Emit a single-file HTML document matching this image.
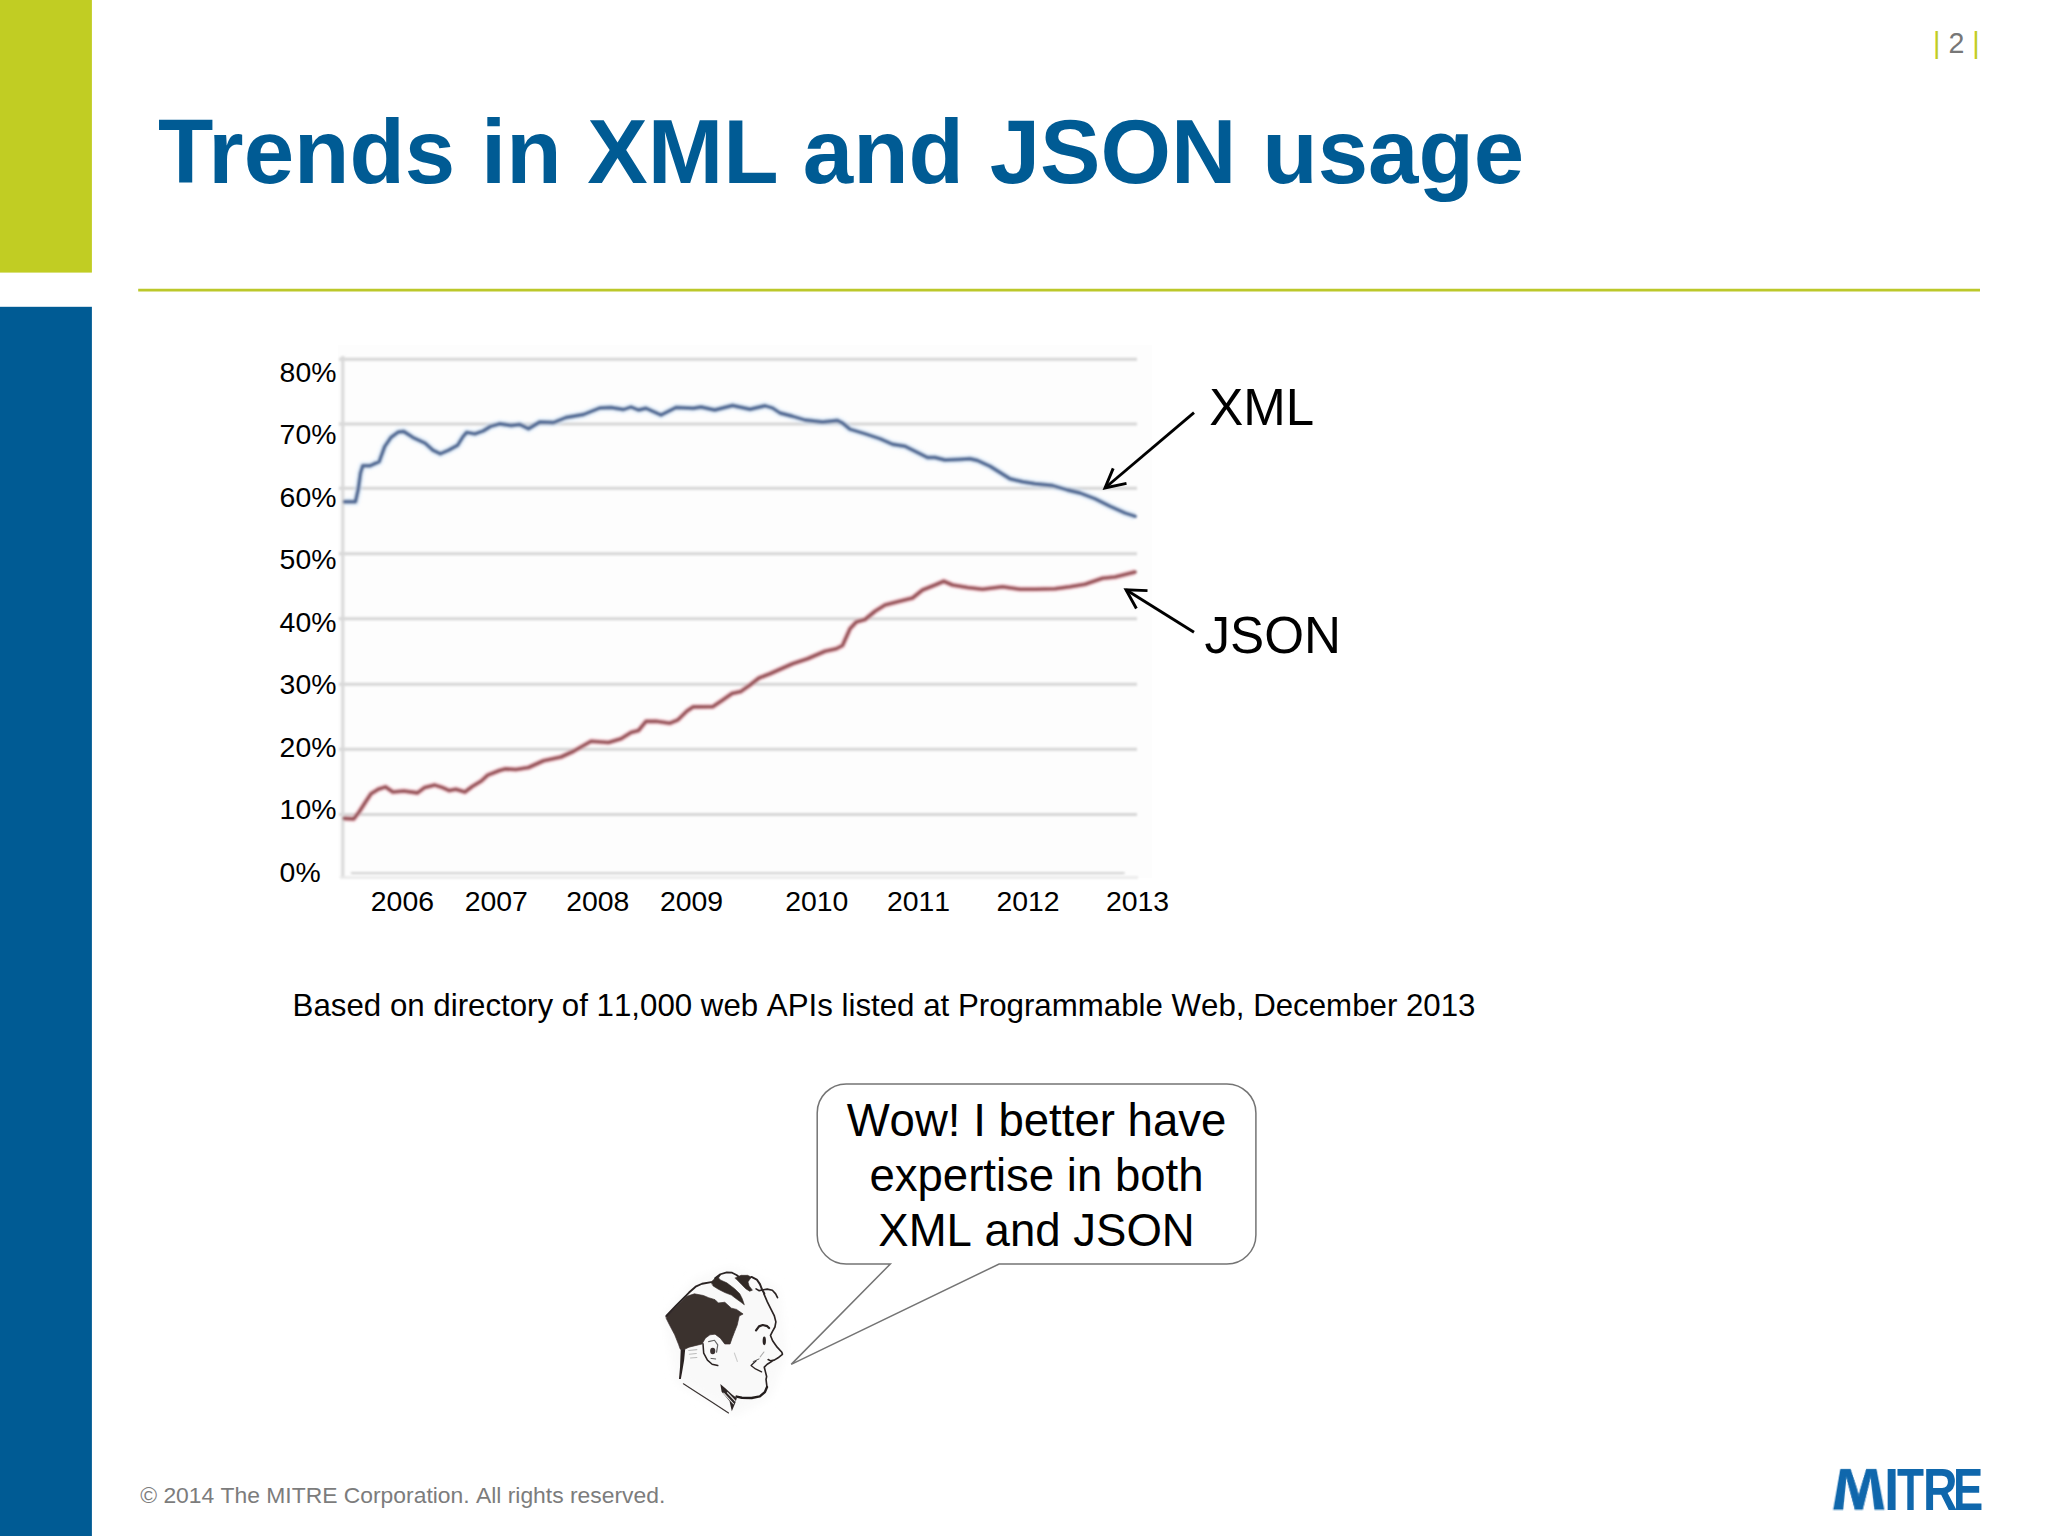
<!DOCTYPE html>
<html lang="en">
<head>
<meta charset="utf-8">
<title>Trends in XML and JSON usage</title>
<style>
html,body{margin:0;padding:0;background:#fff;}
body{width:2048px;height:1536px;position:relative;overflow:hidden;font-family:"Liberation Sans",sans-serif;color:#000;font-kerning:none;}
.abs{position:absolute;white-space:nowrap;line-height:1;}
#title{left:158px;top:106.5px;font-kerning:normal;word-spacing:0.55px;font-size:90.67px;font-weight:bold;color:#005b94;}
#pgnum{left:1933px;top:28.6px;font-size:28.6px;color:#777;}
#pgnum span{color:#c1cd23;}
.yl{font-size:28.4px;left:279.6px;}
.xl{font-size:28.4px;top:886.9px;}
#cap{left:292.6px;top:990.1px;font-size:31.26px;}
#xml{left:1209.2px;top:381.5px;font-size:51px;}
#json{left:1204.4px;top:609.9px;font-size:51.2px;}
#bubtxt{position:absolute;left:816.5px;top:1094.1px;width:440px;text-align:center;font-size:45.55px;line-height:54.7px;}
#foot{left:140.2px;top:1483.9px;font-size:22.87px;color:#7c7c7c;}
#logo{position:absolute;left:1800px;top:1460px;width:248px;height:60.0px;font-size:60.0px;font-weight:bold;line-height:1;color:#0f67ac;white-space:nowrap;filter:blur(0.5px);}
#logo span{position:absolute;top:0;display:block;transform-origin:0 0;}
svg{position:absolute;left:0;top:0;overflow:visible;}
</style>
</head>
<body>
<div id="title" class="abs">Trends in XML and JSON usage</div>
<div id="pgnum" class="abs"><span>|</span> 2 <span>|</span></div>

<!-- chart -->
<svg id="chart" width="2048" height="1536" viewBox="0 0 2048 1536">
  <defs>
    <filter id="soft" x="-5%" y="-5%" width="110%" height="110%"><feGaussianBlur stdDeviation="0.9"/></filter>
  </defs>
  <rect x="0" y="0" width="91.9" height="272.6" fill="#c1cd23"/>
  <rect x="0" y="306.8" width="91.9" height="1230" fill="#005b94"/>
  <rect x="138.2" y="288.75" width="1841.8" height="2.75" fill="#bcc82a"/>
  <rect x="338" y="345" width="814" height="533" fill="#fdfdfd"/>
  <g filter="url(#soft)">
    <g stroke="#d5d5d5" stroke-width="3.1" fill="none">
      <line x1="339" y1="359.3" x2="1137" y2="359.3"/>
      <line x1="339" y1="424" x2="1137" y2="424"/>
      <line x1="339" y1="488.2" x2="1137" y2="488.2"/>
      <line x1="339" y1="553.7" x2="1137" y2="553.7"/>
      <line x1="339" y1="618.7" x2="1137" y2="618.7"/>
      <line x1="339" y1="684.3" x2="1137" y2="684.3"/>
      <line x1="339" y1="749.3" x2="1137" y2="749.3"/>
      <line x1="339" y1="814.5" x2="1137" y2="814.5"/>
      <line x1="342.8" y1="356" x2="342.8" y2="878" stroke="#d9d9d9"/>
    </g>
    <line x1="351" y1="873.1" x2="1124.6" y2="873.1" stroke="#c9c9c9" stroke-width="1.8"/>
    <line x1="340" y1="877.5" x2="1138" y2="877.5" stroke="#e8e8e8" stroke-width="2.5"/>
    <polyline fill="none" stroke="#d5e6fb" stroke-opacity="0.45" stroke-width="9" stroke-linejoin="round" points="344.6,501.7 355.5,501.7 358.2,489.4 360.5,473 362.8,465.7 370.1,465.7 379.2,461.6 384.7,446.5 391,437.4 398.3,432 403.8,431.5 412.9,437.4 424.8,442.9 433,450.2 440.3,453.8 448.5,450.2 457.6,445.2 463.1,436.5 466.7,432.4 474.9,433.8 483.1,431 490.4,426.5 499.5,423.8 511,425.5 519.75,424.5 528.5,428.75 539.75,422 553.5,422.5 566,417.5 583.5,414.5 599.75,408 611,407.5 623.5,409.5 631,407 638.5,410 646,408.25 661,415 676,407.5 693.5,408.25 701,407 714.75,410 732.5,405.5 750,409.25 765,405.75 772.5,408 780,413 792.5,416.25 805,420 822.5,422 837.5,420.5 842.5,423 850,429.25 865,433.75 880,438.75 892.5,444.25 905,446.25 917.5,452.5 927.5,457.5 935,457.5 945,460 957.5,459.5 970,458.75 977.5,460.5 990,466.25 1000,472.5 1010,478.75 1022.5,481.75 1035,483.75 1052.5,485.5 1067.5,490 1080,493 1095,498.75 1110,506.25 1125,513 1135,516.25"/>
    <polyline fill="none" stroke="#f3b6c0" stroke-opacity="0.5" stroke-width="6.5" stroke-linejoin="round" points="344.1,818.4 353.7,818.9 359.1,812 365.5,802 371,793.8 378.3,789.2 385.6,786.9 392.9,792 403.8,791 417.5,792.9 424.8,787.4 434.8,785.1 442.1,787.4 449.4,790.6 455.8,789.2 464.9,792 472.2,786.5 481.3,781 487.7,775.1 499.5,770.5 505,768.9 516,769.5 528.5,767.5 543.5,760.75 561,757 573.5,751.25 591,741.25 608.5,742.5 621,738.75 631,732.5 638.5,730.5 646,721.4 656,721.3 670,723.2 678,719.8 687,711 693,706.9 713,706.6 722,700.5 732,693.5 741,691.4 750,685 759,678 770,673.75 792.5,663.75 807.5,658.75 825,651.25 836.25,648.75 842.5,645.5 850,628.75 856.25,622 865,619.5 875,611.25 885,605 897.5,601.75 912.5,598 922.5,590 935,585 943.75,581.25 952.5,585 967.5,587.5 982.5,589.25 1002.5,586.75 1020,589.25 1035,589.25 1055,588.75 1070,586.75 1085,584.25 1102.5,578.25 1115,577 1125,574.5 1135,572"/>
    <polyline id="blue" fill="none" stroke="#546d96" stroke-width="3.9" stroke-linejoin="round" stroke-linecap="round" points="344.6,501.7 355.5,501.7 358.2,489.4 360.5,473 362.8,465.7 370.1,465.7 379.2,461.6 384.7,446.5 391,437.4 398.3,432 403.8,431.5 412.9,437.4 424.8,442.9 433,450.2 440.3,453.8 448.5,450.2 457.6,445.2 463.1,436.5 466.7,432.4 474.9,433.8 483.1,431 490.4,426.5 499.5,423.8 511,425.5 519.75,424.5 528.5,428.75 539.75,422 553.5,422.5 566,417.5 583.5,414.5 599.75,408 611,407.5 623.5,409.5 631,407 638.5,410 646,408.25 661,415 676,407.5 693.5,408.25 701,407 714.75,410 732.5,405.5 750,409.25 765,405.75 772.5,408 780,413 792.5,416.25 805,420 822.5,422 837.5,420.5 842.5,423 850,429.25 865,433.75 880,438.75 892.5,444.25 905,446.25 917.5,452.5 927.5,457.5 935,457.5 945,460 957.5,459.5 970,458.75 977.5,460.5 990,466.25 1000,472.5 1010,478.75 1022.5,481.75 1035,483.75 1052.5,485.5 1067.5,490 1080,493 1095,498.75 1110,506.25 1125,513 1135,516.25"/>
    <polyline id="red" fill="none" stroke="#98545a" stroke-width="3.6" stroke-linejoin="round" stroke-linecap="round" points="344.1,818.4 353.7,818.9 359.1,812 365.5,802 371,793.8 378.3,789.2 385.6,786.9 392.9,792 403.8,791 417.5,792.9 424.8,787.4 434.8,785.1 442.1,787.4 449.4,790.6 455.8,789.2 464.9,792 472.2,786.5 481.3,781 487.7,775.1 499.5,770.5 505,768.9 516,769.5 528.5,767.5 543.5,760.75 561,757 573.5,751.25 591,741.25 608.5,742.5 621,738.75 631,732.5 638.5,730.5 646,721.4 656,721.3 670,723.2 678,719.8 687,711 693,706.9 713,706.6 722,700.5 732,693.5 741,691.4 750,685 759,678 770,673.75 792.5,663.75 807.5,658.75 825,651.25 836.25,648.75 842.5,645.5 850,628.75 856.25,622 865,619.5 875,611.25 885,605 897.5,601.75 912.5,598 922.5,590 935,585 943.75,581.25 952.5,585 967.5,587.5 982.5,589.25 1002.5,586.75 1020,589.25 1035,589.25 1055,588.75 1070,586.75 1085,584.25 1102.5,578.25 1115,577 1125,574.5 1135,572"/>
  </g>
  <!-- arrows -->
  <g stroke="#000" stroke-width="2.9" fill="none" stroke-linecap="butt">
    <line x1="1194" y1="412.6" x2="1105" y2="488"/>
    <polyline points="1113.2,468.4 1105,488 1126.5,483.4"/>
    <line x1="1194" y1="632.2" x2="1126" y2="589.8"/>
    <polyline points="1147.5,590.6 1126,589.8 1136.4,608.5"/>
  </g>
  <!-- speech bubble -->
  <path d="M846.2,1083.9 H1226.9 A29,29 0 0 1 1255.9,1112.9 V1235.0 A29,29 0 0 1 1226.9,1264.0 H999.1 L791.2,1364.4 L890.3,1264.0 H846.2 A29,29 0 0 1 817.2,1235.0 V1112.9 A29,29 0 0 1 846.2,1083.9 Z" fill="#fff" stroke="#747474" stroke-width="1.5"/>
</svg>

<div class="abs yl" style="top:357.7px">80%</div>
<div class="abs yl" style="top:420.2px">70%</div>
<div class="abs yl" style="top:482.7px">60%</div>
<div class="abs yl" style="top:545.2px">50%</div>
<div class="abs yl" style="top:607.7px">40%</div>
<div class="abs yl" style="top:670.2px">30%</div>
<div class="abs yl" style="top:732.7px">20%</div>
<div class="abs yl" style="top:795.2px">10%</div>
<div class="abs yl" style="top:857.7px">0%</div>

<div class="abs xl" style="left:370.80px">2006</div>
<div class="abs xl" style="left:464.70px">2007</div>
<div class="abs xl" style="left:566.20px">2008</div>
<div class="abs xl" style="left:660.00px">2009</div>
<div class="abs xl" style="left:785.25px">2010</div>
<div class="abs xl" style="left:887.00px">2011</div>
<div class="abs xl" style="left:996.50px">2012</div>
<div class="abs xl" style="left:1106.00px">2013</div>

<div id="xml" class="abs">XML</div>
<div id="json" class="abs">JSON</div>

<div id="cap" class="abs">Based on directory of 11,000 web APIs listed at Programmable Web, December 2013</div>

<div id="bubtxt">Wow! I better have<br>expertise in both<br>XML and JSON</div>

<svg id="face" width="160" height="180" viewBox="0 0 1365 1536" style="left:650px;top:1250px">
  <defs><filter id="fb" x="-10%" y="-10%" width="120%" height="120%"><feGaussianBlur stdDeviation="4.2"/></filter>
  <filter id="halo" x="-20%" y="-20%" width="140%" height="140%"><feGaussianBlur stdDeviation="40"/></filter></defs>
  <path d="M120,560 L380,250 L700,150 L1100,330 L1160,880 L1030,1250 L720,1420 L230,1130 Z" fill="#f9f9f9" filter="url(#halo)"/>
  <g filter="url(#fb)" stroke-linecap="round" stroke-linejoin="round">
    <!-- hair mass -->
    <path d="M139,563 L311,396 L378,374 L455,388 L500,407 L555,424 L583,452 L638,446 L694,496 L738,507 L794,546 L761,563 L744,641 L722,696 L700,752 L683,802 L638,802 L600,752 L555,718 L511,724 L472,752 L444,802 L333,829 L290,850 L258,846 L244,807 L211,724 L167,641 L139,585 Z" fill="#3a302e" stroke="#3a302e" stroke-width="6"/>
    <!-- head top outline -->
    <path d="M139,563 L222,474 L333,363 L389,313 L444,288 L522,274" fill="none" stroke="#2a2322" stroke-width="16"/>
    <!-- stripe 1 -->
    <path d="M522,274 L555,240 L603,210 L585,238 L600,255 L655,280 L722,330 L766,374 L788,418 L805,468 L777,446 L738,418 L694,385 L638,363 L583,335 L539,307 Z" fill="#332a28" stroke="#332a28" stroke-width="5"/>
    <path d="M555,240 L600,207 L655,191 L700,194 L738,213 L763,232" fill="none" stroke="#2a2322" stroke-width="15"/>
    <!-- stripe 2 -->
    <path d="M727,238 L777,216 L833,216 L866,232 L850,252 L836,272 L846,307 L874,343 L850,352 L816,330 L777,291 L744,257 Z" fill="#332a28" stroke="#332a28" stroke-width="5"/>
    <!-- curls -->
    <path d="M866,230 L911,252 L938,291 L955,335 L975,372" fill="none" stroke="#2a2322" stroke-width="17"/>
    <path d="M905,332 L932,347 L957,341 L1000,334 L1044,344 L1072,374 L1088,407" fill="none" stroke="#2a2322" stroke-width="14"/>
    <!-- face profile -->
    <path d="M972,374 L1000,441 L1033,507 L1061,563 L1074,613 L1066,657 L1044,696 L1028,729 L1046,775 L1085,829 L1125,872 L1130,890 L1100,915 L1060,940 L1030,946 L1008,935" fill="none" stroke="#2a2322" stroke-width="14"/>
    <path d="M1040,950 L1000,975 L975,1000 L985,1040 L995,1080 L990,1105 L998,1170" fill="none" stroke="#2a2322" stroke-width="14"/>
    <path d="M998,1170 L980,1213 L937,1249 L867,1263 L784,1261 L739,1251" fill="none" stroke="#241e1d" stroke-width="21"/>
    <path d="M905,945 L862,985 L900,1015 L952,1040" fill="none" stroke="#2a2322" stroke-width="11"/>
    <path d="M880,952 L930,930" fill="none" stroke="#555" stroke-width="8"/>
    <path d="M940,912 L972,870" fill="none" stroke="#aaa" stroke-width="9"/>
    <!-- eyebrow and eye -->
    <path d="M905,686 L930,652 L962,640 L1000,650 L1016,666" fill="none" stroke="#2a2322" stroke-width="19"/>
    <ellipse cx="975" cy="775" rx="14" ry="37" fill="#2a2322"/>
    <!-- ear -->
    <path d="M452,800 L458,880 L490,940 L530,975 L578,986" fill="none" stroke="#2a2322" stroke-width="13"/>
    <path d="M500,782 L550,770 L578,810 L568,872" fill="none" stroke="#666" stroke-width="10"/>
    <ellipse cx="535" cy="862" rx="22" ry="28" fill="#3a3332"/>
    <path d="M520,925 L560,930" stroke="#555" stroke-width="8" fill="none"/>
    <!-- neck hatching -->
    <path d="M330,858 L400,850 M335,890 L395,884 M345,922 L400,918" stroke="#bbb" stroke-width="9" fill="none"/>
    <path d="M720,880 L745,950" stroke="#ccc" stroke-width="10" fill="none"/>
    <!-- neck back -->
    <path d="M262,846 L300,846 L291,940 L274,1040 L263,1100 L247,1100 L256,1000 Z" fill="#2a2322"/>
    <path d="M285,1142 L400,1216 L530,1300 L670,1390" fill="none" stroke="#3a3332" stroke-width="10"/>
    <!-- collar -->
    <path d="M600,1143 L611,1210 L678,1288 L698,1376 L730,1299 L741,1262 L700,1232 L645,1182 Z" fill="#2f2827"/>
    <path d="M628,1222 L712,1312 M660,1218 L728,1290" stroke="#eee" stroke-width="9" fill="none"/>
  </g>
</svg>

<div id="foot" class="abs">© 2014 The MITRE Corporation. All rights reserved.</div>

<div id="logo"><span style="left:0;transform:matrix3d(0.799395,0,0,0,-0.381223,0.592976,0,-0.00663776,0,0,1,0,38.3618,3.34645,0,1);-webkit-text-stroke:0.7px #0f67ac">M</span><span style="left:84.13px;transform:scaleX(0.9141)">I</span><span style="left:97.00px;transform:scaleX(0.7359)">T</span><span style="left:122.71px;transform:scaleX(0.7956)">R</span><span style="left:153.17px;transform:scaleX(0.7546)">E</span></div>
</body>
</html>
